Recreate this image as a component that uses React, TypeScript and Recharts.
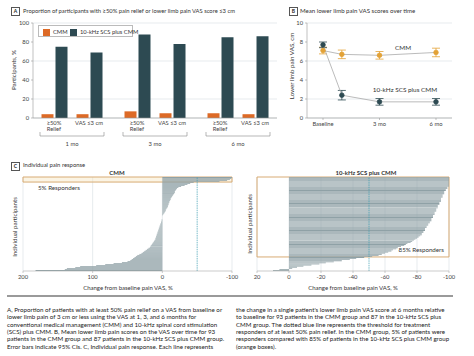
import React from "react"
import {
  BarChart,
  Bar,
  LineChart,
  Line,
  ErrorBar,
  XAxis,
  YAxis,
  CartesianGrid,
  ReferenceArea,
  ReferenceLine,
} from "recharts"

// panel A
const months = ["1 mo", "3 mo", "6 mo"]
const measures = ["≥50%\nRelief", "VAS ≤3 cm"]
const cmmPct = [4, 4, 7, 5, 5, 4]
const scsPct = [75, 69, 88, 78, 85, 86]
const pctTicks = [0, 20, 40, 60, 80, 100]

// panel B
const visitMonths = [0, 1, 3, 6]
const cmmVas = [7.1, 6.7, 6.6, 6.9]
const cmmVasCi = [0.35, 0.45, 0.4, 0.45]
const scsVas = [7.7, 2.4, 1.7, 1.7]
const scsVasCi = [0.3, 0.5, 0.35, 0.35]
const vasTicks = [0, 2, 4, 6, 8, 10]
const visitTicks = [0, 3, 6]
const visitTickLabels: Record<number, string> = { 0: "Baseline", 3: "3 mo", 6: "6 mo" }

// panel C (% change at 6 mo, one per patient, sorted)
const cmmChange = [
  -100, -99, -97, -93, -82,
  -45, -40, -36, -32, -27, -23, -21, -20, -19, -18, -18, -17, -16, -15, -14,
  -13, -12, -12, -11, -10, -10, -9, -9, -8, -8, -7, -6, -5, -5, -4, -3, -2, -1,
  0, 0, 0, 0, 1, 1, 2, 2, 3, 3, 4, 4, 5, 5, 6, 6, 7, 7, 8, 8, 9, 9, 10, 10, 11, 12, 13,
  14, 15, 16, 17, 18, 20, 22, 24, 26, 28, 30,
  33, 36, 38, 40, 42, 44, 46, 50, 58, 70, 82, 95, 118, 125, 137, 140, 182,
]
const scsChange = [
  -100, -100, -100, -100, -100, -100, -100, -100, -100,
  -99, -99, -98, -98,
  -97, -97, -97, -96, -96, -96,
  -95, -95, -95, -95, -94, -94,
  -94, -93, -93, -93, -92, -92,
  -92, -91, -91, -91, -90, -90, -90, -89, -89, -89,
  -88, -88, -87, -87, -86, -86, -85, -85,
  -85, -84, -84, -83, -83, -82, -81,
  -80, -79, -78, -77, -76, -74, -73,
  -72, -70, -68, -67, -65, -64,
  -62, -60, -58, -56, -52,
  -47, -42, -38, -33, -28, -23, -19, -14, -9, -5, -2, 6, 10,
]
const cmmTicks = [200, 100, 0, -100]
const scsTicks = [20, 0, -20, -40, -60, -80, -100]
const responderCut = -50

const captionLeft = [
  "A, Proportion of patients with at least 50% pain relief on a VAS from baseline or",
  "lower limb pain of 3 cm or less using the VAS at 1, 3, and 6 months for",
  "conventional medical management (CMM) and 10-kHz spinal cord stimulation",
  "(SCS) plus CMM. B, Mean lower limb pain scores on the VAS over time for 93",
  "patients in the CMM group and 87 patients in the 10-kHz SCS plus CMM group.",
  "Error bars indicate 95% CIs. C, Individual pain response. Each line represents",
]
const captionRight = [
  "the change in a single patient's lower limb pain VAS score at 6 months relative",
  "to baseline for 93 patients in the CMM group and 87 in the 10-kHz SCS plus",
  "CMM group. The dotted blue line represents the threshold for treatment",
  "responders of at least 50% pain relief. In the CMM group, 5% of patients were",
  "responders compared with 85% of patients in the 10-kHz SCS plus CMM group",
  "(orange boxes).",
]

const ORANGE = "#dd6a26"
const DARK = "#2d4a52"
const GOLD = "#e3a236"
const GREYBAR = "#8fa1a6"
const BOXLINE = "#d8ab74"
const TEAL = "#3d9db2"
const GRID = "#dde3e6"
const FONT = "Lato, 'Open Sans', sans-serif"

// two categories per month plus a gap
const GROUP_STEP = 2.371

const barRows = cmmPct.map((v, i) => {
  const gi = Math.floor(i / measures.length)
  const mi = i % measures.length
  return {
    pos: gi * GROUP_STEP + mi,
    month: months[gi],
    measure: measures[mi],
    mi,
    cmm: v,
    scs: scsPct[i],
  }
})

const vasRows = visitMonths.map((m, i) => ({
  m,
  cmm: cmmVas[i],
  cmmCi: cmmVasCi[i],
  scs: scsVas[i],
  scsCi: scsVasCi[i],
}))

const cmmRows = cmmChange.map((v, i) => ({ id: "c" + i, v }))
const scsRows = scsChange.map((v, i) => ({ id: "s" + i, v }))
const lastResponder = (arr: number[]) => arr.filter((v) => v <= responderCut).length - 1

const tickStyle = { fontSize: 5.8, fill: "#444", fontFamily: FONT }

function MeasureTick(props: any) {
  const { x, y, payload } = props
  const row = barRows.find((r) => Math.abs(r.pos - payload.value) < 1e-6)
  if (!row) return null
  const lines = row.measure.split("\n")
  return (
    <g>
      {lines.map((l, i) => (
        <text key={i} x={x} y={y + 7 + i * 6} textAnchor="middle" {...tickStyle}>
          {l}
        </text>
      ))}
      {row.mi === 0 && (
        <g>
          <path
            d={`M${x - 14} ${y + 14} V${y + 18} H${x + 50} V${y + 14}`}
            stroke="#888"
            strokeWidth={0.6}
            fill="none"
          />
          <text x={x + 18} y={y + 28} textAnchor="middle" {...tickStyle}>
            {row.month}
          </text>
        </g>
      )}
    </g>
  )
}

function Txt({ x, y, size = 6, anchor = "start", weight = 400, color = "#333", rotate = false, children }: any) {
  const tx = anchor === "middle" ? "-50%" : anchor === "end" ? "-100%" : "0"
  return (
    <div
      style={{
        position: "absolute",
        left: x,
        top: y,
        transform: rotate ? "translate(-50%,-50%) rotate(-90deg)" : `translate(${tx},-50%)`,
        fontSize: size,
        fontWeight: weight,
        color,
        whiteSpace: "nowrap",
        lineHeight: 1,
      }}
    >
      {children}
    </div>
  )
}

function PanelTag({ x, y, letter }: any) {
  return (
    <div
      style={{
        position: "absolute",
        left: x,
        top: y,
        width: 7,
        height: 7,
        border: "0.6px solid #555",
        fontSize: 5,
        fontWeight: 700,
        lineHeight: "7px",
        textAlign: "center",
        color: "#222",
      }}
    >
      {letter}
    </div>
  )
}

function ChangeChart({ rows, ticks, domain, responders, fill, width }: any) {
  return (
    <BarChart
      width={width}
      height={114}
      data={rows}
      layout="vertical"
      margin={{ top: 7, right: 8, bottom: 0, left: 23 }}
      barCategoryGap="12%"
    >
      <CartesianGrid horizontal={false} stroke={GRID} strokeWidth={0.7} />
      <XAxis
        type="number"
        dataKey="v"
        domain={domain}
        ticks={ticks}
        reversed
        height={13}
        tick={tickStyle}
        tickSize={2}
        tickMargin={2}
        stroke="#aaa"
        strokeWidth={0.6}
        interval={0}
      />
      <YAxis type="category" dataKey="id" hide />
      <Bar dataKey="v" fill={GREYBAR} isAnimationActive={false} />
      <ReferenceLine x={responderCut} stroke={TEAL} strokeWidth={0.7} strokeDasharray="1.5 0.8" />
      <ReferenceArea
        y1={rows[0].id}
        y2={rows[responders].id}
        x1={domain[1]}
        x2={domain[0]}
        fill={fill}
        fillOpacity={fill === "none" ? 0 : 0.45}
        stroke={BOXLINE}
        strokeWidth={1}
      />
    </BarChart>
  )
}

export default function App() {
  return (
    <div
      style={{
        position: "absolute",
        left: 0,
        top: 0,
        width: 474,
        height: 356,
        background: "#fff",
        overflow: "hidden",
        fontFamily: FONT,
      }}
    >
      {/* A */}
      <PanelTag x={11} y={7} letter="A" />
      <Txt x={23} y={11} size={5.8}>
        Proportion of participants with ≥50% pain relief or lower limb pain VAS score ≤3 cm
      </Txt>
      <div style={{ position: "absolute", left: 0, top: 18 }}>
        <BarChart
          width={285}
          height={134}
          data={barRows}
          margin={{ top: 5, right: 8, bottom: 0, left: 0 }}
          barSize={12}
          barGap={2}
        >
          <CartesianGrid vertical={false} stroke={GRID} strokeWidth={0.7} />
          <XAxis
            type="number"
            dataKey="pos"
            domain={[-0.6, 6.37]}
            ticks={barRows.map((r) => r.pos)}
            interval={0}
            height={34}
            tickLine={false}
            tickSize={0}
            tickMargin={0}
            tick={<MeasureTick />}
            stroke="#999"
            strokeWidth={0.6}
          />
          <YAxis
            width={33}
            domain={[0, 100]}
            ticks={pctTicks}
            tick={tickStyle}
            tickSize={2}
            tickMargin={2}
            stroke="#999"
            strokeWidth={0.6}
          />
          <Bar dataKey="cmm" fill={ORANGE} isAnimationActive={false} />
          <Bar dataKey="scs" fill={DARK} isAnimationActive={false} />
        </BarChart>
      </div>
      <Txt x={14} y={70} size={6.2} rotate>
        Participants, %
      </Txt>
      <div
        style={{
          position: "absolute",
          left: 38,
          top: 25,
          width: 95,
          height: 12,
          border: "0.6px solid #bbb",
          background: "#fff",
          boxSizing: "border-box",
        }}
      >
        <div style={{ position: "absolute", left: 4, top: 2.5, width: 7, height: 7, background: ORANGE }} />
        <Txt x={14} y={6} size={5.8}>CMM</Txt>
        <div style={{ position: "absolute", left: 31, top: 2.5, width: 7, height: 7, background: DARK }} />
        <Txt x={41} y={6} size={5.8}>10-kHz SCS plus CMM</Txt>
      </div>

      {/* B */}
      <PanelTag x={289} y={7} letter="B" />
      <Txt x={300} y={11} size={6.1}>
        Mean lower limb pain VAS scores over time
      </Txt>
      <div style={{ position: "absolute", left: 280, top: 18 }}>
        <LineChart width={180} height={134} data={vasRows} margin={{ top: 5, right: 8, bottom: 0, left: 0 }}>
          <CartesianGrid vertical={false} stroke={GRID} strokeWidth={0.7} />
          <XAxis
            type="number"
            dataKey="m"
            domain={[-0.85, 6.85]}
            ticks={visitTicks}
            tickFormatter={(v: number) => visitTickLabels[v]}
            height={34}
            tick={tickStyle}
            tickSize={2}
            tickMargin={2}
            stroke="#999"
            strokeWidth={0.6}
          />
          <YAxis
            width={27}
            domain={[0, 10]}
            ticks={vasTicks}
            tick={tickStyle}
            tickSize={2}
            tickMargin={2}
            stroke="#999"
            strokeWidth={0.6}
          />
          <Line
            dataKey="cmm"
            stroke="#aaa"
            strokeWidth={0.8}
            dot={{ r: 2.3, fill: GOLD, stroke: GOLD }}
            isAnimationActive={false}
          >
            <ErrorBar dataKey="cmmCi" direction="y" width={4} stroke={GOLD} strokeWidth={0.8} />
          </Line>
          <Line
            dataKey="scs"
            stroke="#aaa"
            strokeWidth={0.8}
            dot={{ r: 2.3, fill: DARK, stroke: DARK }}
            isAnimationActive={false}
          >
            <ErrorBar dataKey="scsCi" direction="y" width={4} stroke={DARK} strokeWidth={0.8} />
          </Line>
        </LineChart>
      </div>
      <Txt x={292} y={66} size={6.2} rotate>
        Lower limb pain VAS, cm
      </Txt>
      <Txt x={403} y={48} size={6.4} anchor="middle">CMM</Txt>
      <Txt x={405} y={90} size={6.4} anchor="middle">10-kHz SCS plus CMM</Txt>

      {/* C */}
      <PanelTag x={11} y={162} letter="C" />
      <Txt x={23} y={165} size={5.9}>
        Individual pain response
      </Txt>
      <Txt x={117} y={173} size={6} anchor="middle" weight={700}>CMM</Txt>
      <Txt x={366} y={173} size={6} anchor="middle" weight={700}>10-kHz SCS plus CMM</Txt>
      <div style={{ position: "absolute", left: 0, top: 170 }}>
        <ChangeChart rows={cmmRows} ticks={cmmTicks} domain={[-100, 200]} responders={lastResponder(cmmChange)} fill="#f7e6c4" width={240} />
      </div>
      <div style={{ position: "absolute", left: 234, top: 170 }}>
        <ChangeChart rows={scsRows} ticks={scsTicks} domain={[-100, 20]} responders={lastResponder(scsChange)} fill="none" width={223} />
      </div>
      <Txt x={38} y={188} size={6.2}>5% Responders</Txt>
      <Txt x={444} y={250} size={6.2} anchor="end">85% Responders</Txt>
      <Txt x={15} y={227} size={6.2} rotate>Individual participants</Txt>
      <Txt x={250} y={224} size={6.2} rotate>Individual participants</Txt>
      <Txt x={128} y={288} size={6} anchor="middle">Change from baseline pain VAS, %</Txt>
      <Txt x={353} y={288} size={6} anchor="middle">Change from baseline pain VAS, %</Txt>

      {/* caption */}
      <div style={{ position: "absolute", left: 7, top: 295, width: 446, height: 1.5, background: "#9a9a9a" }} />
      {captionLeft.map((l, i) => (
        <Txt key={"l" + i} x={7} y={310 + i * 7.33} size={6.2} color="#222">{l}</Txt>
      ))}
      {captionRight.map((l, i) => (
        <Txt key={"r" + i} x={236} y={310 + i * 7.33} size={6.15} color="#222">{l}</Txt>
      ))}
    </div>
  )
}
